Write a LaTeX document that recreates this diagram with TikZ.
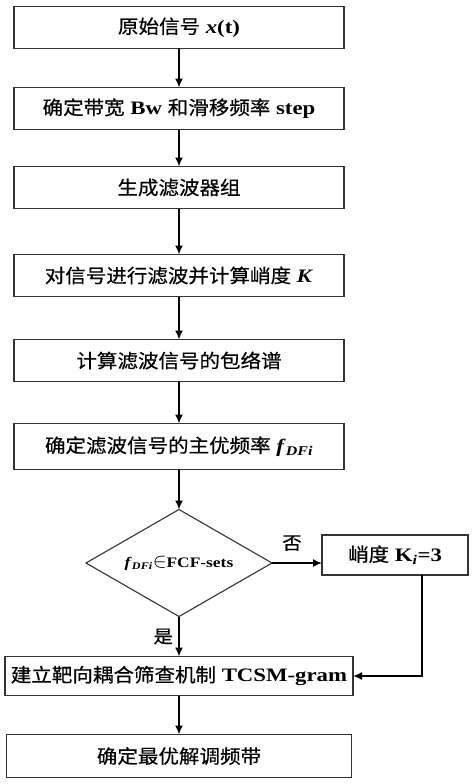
\documentclass[tikz,border=0pt]{standalone}
\usepackage{fontspec}
\setmainfont{Liberation Serif}[FakeStretch=1.2]
\newfontfamily\cjk{Noto Sans CJK SC}[FakeStretch=1.08,FakeBold=0.5]
\usetikzlibrary{arrows.meta,positioning,shapes.geometric}
\newcommand\fdfi{\textbf{\textit{f}\textsubscript{\textit{DFi}}}}

\begin{document}
\begin{tikzpicture}[
    x=1pt,y=1pt,
    font=\fontsize{19}{22}\selectfont,
    box/.style={draw=black!80,line width=1.1pt,minimum width=330pt,minimum height=42pt,inner sep=2pt,outer sep=0pt,align=center},
    decide/.style={diamond,aspect=1.74,draw=black!80,line width=1.1pt,minimum width=186pt,minimum height=107pt,inner sep=0pt,outer sep=0pt,
      font=\fontsize{14.5}{16}\selectfont},
    lbl/.style={font=\fontsize{18}{20}\selectfont\cjk},
    arr/.style={-{Latex[length=9pt,width=8pt]},line width=1.6pt},
  ]
    \useasboundingbox (0,0) rectangle (474,-784);
    \node[box] (src) at (179,-27.5) {{\cjk 原始信号} \textbf{\textit{x}(t)}};
    \node[box,below=39pt of src] (bw) {{\cjk 确定带宽} \textbf{Bw} {\cjk 和滑移频率} \textbf{step}};
    \node[box,below=37pt of bw] (bank) {{\cjk 生成滤波器组}};
    \node[box,below=46pt of bank] (kurt) {{\cjk 对信号进行滤波并计算峭度} \textbf{\textit{K}}};
    \node[box,below=43pt of kurt] (env) {{\cjk 计算滤波信号的包络谱}};
    \node[box,minimum height=46pt,below=42pt of env] (dom) {{\cjk 确定滤波信号的主优频率} \fdfi};

    \node[decide,below=40pt of dom] (test) {\fdfi{\fontsize{21}{21}\selectfont$\in$}\textbf{FCF-sets}};
    \node[box,minimum width=146pt,minimum height=40pt,right=50pt of test,yshift=8pt] (kset)
      {{\cjk 峭度} \textbf{K\textsubscript{\textit{i}}=3}};

    \node[box,minimum width=348pt,minimum height=39pt,below=40pt of test] (tcsm)
      {{\cjk 建立靶向耦合筛查机制} \textbf{TCSM-gram}};
    \node[box,minimum width=345pt,minimum height=43pt,below=39pt of tcsm] (best) {{\cjk 确定最优解调频带}};

    \draw[arr] (src) -- (bw);
    \draw[arr] (bw) -- (bank);
    \draw[arr] (bank) -- (kurt);
    \draw[arr] (kurt) -- (env);
    \draw[arr] (env) -- (dom);
    \draw[arr] (dom) -- (test);
    \draw[arr] (test.east) -- (test.east -| kset.west) node[lbl,pos=.4,above=8pt] (no) {否};
    \draw[arr] (test) -- (tcsm) node[lbl,midway,left=2pt] (yes) {是};
    \draw[arr] ([xshift=27pt]kset.south) |- (tcsm.east);
    \draw[arr] (tcsm) -- (best);
  \end{tikzpicture}
\end{document}
